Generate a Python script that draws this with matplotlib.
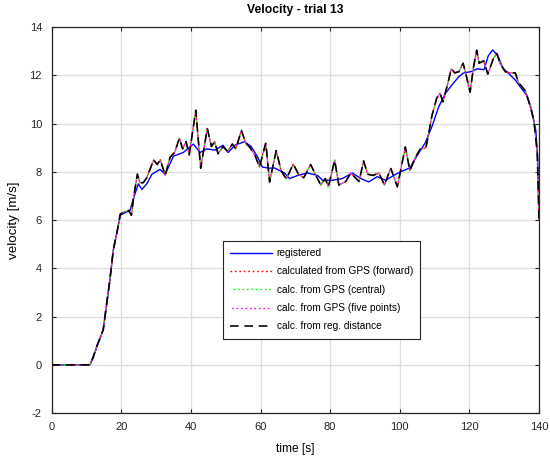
import matplotlib
matplotlib.use("Agg")
import matplotlib.pyplot as plt

plt.rcParams['font.family'] = ['Liberation Sans', 'DejaVu Sans']
plt.rcParams['axes.unicode_minus'] = False

# registered velocity (blue)
t_reg = [0, 11.0, 12.0, 13.0, 14.8, 15.8, 16.7, 17.7, 18.9, 19.7, 21.0, 22.5, 23.5, 24.9,
         25.9, 27.3, 28.8, 31.1, 32.6, 35.0, 37.8, 40.7, 42.6, 44.5, 46.9, 49.2, 50.7, 52.6,
         55.4, 57.3, 59.2, 60.5, 62.5, 64.0, 66.9, 68.3, 70.7, 73.5, 76.4, 77.8, 80.7, 83.5,
         86.4, 88.8, 91.1, 93.5, 95.9, 98.3, 100.2, 102.9, 104.9, 107.3, 109.3, 111.2, 113.1,
         115.0, 117.0, 118.4, 120.4, 122.3, 124.2, 125.4, 126.7, 128.2, 129.6, 131.1, 133.2,
         134.7, 136.6, 137.9, 139.1, 139.6, 140.0]
v_reg = [0, 0, 0.35, 0.75, 1.45, 2.5, 3.5, 4.75, 5.6, 6.2, 6.3, 6.4, 6.9, 7.5,
         7.27, 7.5, 7.9, 8.1, 7.9, 8.65, 8.8, 9.15, 8.8, 8.95, 8.9, 9.1, 8.8, 9.1,
         9.25, 9.05, 8.6, 8.2, 8.15, 8.16, 7.95, 7.72, 7.85, 7.95, 7.85, 7.65, 7.65, 7.72,
         7.95, 7.72, 7.58, 7.8, 7.65, 7.85, 8.0, 8.16, 8.65, 9.2, 9.9, 10.7, 11.25,
         11.6, 11.95, 12.1, 12.15, 12.27, 12.23, 12.8, 13.05, 12.8, 12.3, 12.1, 11.8,
         11.5, 11.15, 10.55, 9.7, 8.6, 6.3]

# GPS-derived velocity (forward / central / five points / from reg. distance overlap)
t_gps = [0, 11.0, 12.0, 12.9, 14.8, 15.8, 16.7, 17.7, 18.9, 19.7, 21.0, 22.1, 22.9, 23.5,
         24.6, 25.4, 26.3, 27.3, 29.3, 30.3, 31.2, 32.6, 34.0, 35.3, 36.7, 37.6, 38.6, 39.5,
         41.4, 42.8, 44.7, 45.9, 46.8, 47.8, 49.2, 50.5, 51.9, 52.9, 54.5, 55.7, 57.0, 58.5,
         59.7, 61.5, 62.6, 64.5, 65.9, 67.4, 69.4, 70.9, 72.4, 74.4, 75.9, 77.3, 78.6, 79.5,
         81.3, 82.5, 84.5, 85.9, 88.3, 89.6, 90.8, 92.3, 94.0, 95.6, 97.4, 99.3, 101.6,
         102.9, 104.5, 105.8, 107.5, 108.2, 109.2, 110.6, 111.6, 112.4, 113.7, 114.8, 115.8,
         117.0, 118.2, 119.0, 120.2, 121.2, 122.1, 122.8, 124.1, 125.3, 126.9, 127.9, 128.8,
         130.3, 131.7, 133.2, 134.1, 136.1, 137.5, 138.5, 139.5, 140.0]
v_gps = [0, 0, 0.35, 0.76, 1.45, 2.56, 3.5, 4.77, 5.6, 6.25, 6.35, 6.4, 6.2, 6.9,
         7.9, 7.55, 7.55, 7.75, 8.5, 8.3, 8.5, 7.85, 8.6, 8.8, 9.4, 8.95, 9.25, 8.7,
         10.55, 8.15, 9.8, 9.05, 9.25, 8.75, 9.05, 8.85, 9.15, 8.95, 9.72, 9.2, 9.0, 8.65,
         8.2, 9.2, 7.58, 8.88, 8.05, 7.7, 8.32, 7.9, 7.75, 8.3, 7.85, 7.45, 7.72, 7.38,
         8.48, 7.45, 7.6, 7.95, 7.6, 8.45, 7.9, 7.85, 7.95, 7.45, 8.15, 7.38, 9.03,
         8.05, 8.6, 8.93, 9.0, 9.5, 10.3, 11.05, 11.25, 10.9, 11.6, 12.27, 12.1,
         12.15, 12.5, 12.05, 11.3, 12.35, 13.04, 12.5, 12.6, 12.05, 12.7, 12.9, 12.5,
         12.15, 12.1, 12.1, 11.7, 11.35, 10.7, 10.15, 8.8, 6.0]

labels = ['registered', 'calculated from GPS (forward)', 'calc. from GPS (central)',
          'calc. from GPS (five points)', 'calc. from reg. distance']
x_ticks = [0, 20, 40, 60, 80, 100, 120, 140]
y_ticks = [-2, 0, 2, 4, 6, 8, 10, 12, 14]

fig = plt.figure(figsize=(5.5, 4.58), dpi=100)
ax = fig.add_axes([0.094, 0.098, 0.886, 0.843])

ax.plot(t_reg, v_reg, color='#0000ff', lw=1.0, label=labels[0], zorder=3)
ax.plot(t_gps, v_gps, color='#ff0000', lw=1.0, linestyle=(0, (1.2, 2.0)),
        label=labels[1], zorder=4)
ax.plot(t_gps, v_gps, color='#00ff00', lw=1.0, linestyle=(1.0, (1.2, 2.0)),
        label=labels[2], zorder=4)
ax.plot(t_gps, v_gps, color='#ff00ff', lw=1.0, linestyle=(2.0, (1.2, 2.0)),
        label=labels[3], zorder=4)
ax.plot(t_gps, v_gps, color='#000000', lw=1.15, linestyle=(0, (5.4, 3.6)),
        label=labels[4], zorder=5)

ax.set_xlim(0, 140)
ax.set_ylim(-2, 14)
ax.set_xticks(x_ticks)
ax.set_yticks(y_ticks)
ax.grid(True, color='#dcdcdc', lw=0.9)
ax.set_axisbelow(True)
ax.tick_params(direction='in', top=True, right=True, length=3, width=0.8,
               labelsize=8.0, colors='#262626')
ax.tick_params(axis='x', pad=6.5)
ax.tick_params(axis='y', pad=7)
for s in ax.spines.values():
    s.set_color('#262626')
    s.set_linewidth(0.9)

fig.text(0.5365, 1 - 10.5 / 458, 'Velocity - trial 13', fontsize=8.7, fontweight='bold',
         ha='center', va='center')
ax.set_xlabel('time [s]', fontsize=8.6, labelpad=8)
ax.set_ylabel('velocity [m/s]', fontsize=9.6, labelpad=7)

leg = ax.legend(loc='upper left', bbox_to_anchor=(0.3515, 0.4456), fontsize=7.3,
                handlelength=4.15, handletextpad=0.45, borderpad=0.7, labelspacing=0.82,
                fancybox=False, framealpha=1, edgecolor='#262626', borderaxespad=0)
leg.get_frame().set_linewidth(0.8)

fig.savefig('out.png', dpi=100)
